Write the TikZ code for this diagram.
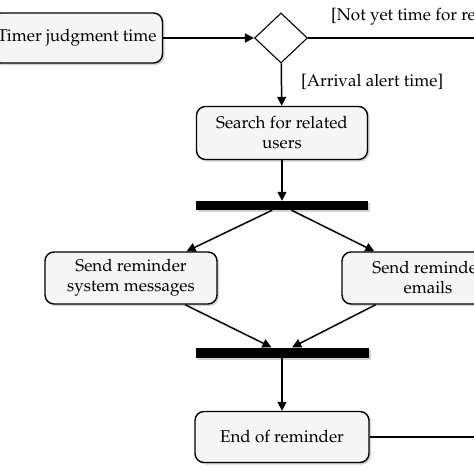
\documentclass[tikz,border=0pt]{standalone}
\usepackage[T1]{fontenc}
\usepackage{mathpazo}
\usetikzlibrary{arrows.meta,shapes.geometric,shadows}

\begin{document}
\begin{tikzpicture}[x=1pt,y=-1pt]
    \path[use as bounding box,clip] (0,0) rectangle (474,474);
    \begin{scope}[every node/.style={rectangle,rounded corners=9pt,draw=black,line width=1.4pt,
            fill=gray!8,align=center,inner sep=2pt,
            font=\fontsize{17}{20}\selectfont,
            drop shadow={opacity=0.35,shadow xshift=2pt,shadow yshift=-2pt}}]
        \node[minimum width=171pt,minimum height=50pt] (timer) at (77,38) {Timer judgment time};
        \node[minimum width=171pt,minimum height=53pt] (search) at (282,133) {Search for related\\users};
        \node[minimum width=172pt,minimum height=52pt] (sendsys) at (131,278) {Send reminder\\system messages};
        \node[minimum width=172pt,minimum height=52pt] (sendmail) at (428,278) {Send reminder\\emails};
        \node[minimum width=174pt,minimum height=51pt] (finish) at (282,437) {End of reminder};
    \end{scope}
    \node[diamond,draw=black,line width=1.1pt,fill=white,inner sep=0pt,
        minimum width=53pt,minimum height=50pt] (dec) at (281,38) {};
    \begin{scope}[every node/.style={rectangle,fill=black,draw=none,inner sep=0pt,
            drop shadow={opacity=0.35,shadow xshift=2pt,shadow yshift=-2pt}}]
        \node[minimum width=172pt,minimum height=9pt] (fork) at (282,205.5) {};
        \node[minimum width=173pt,minimum height=10pt] (join) at (282,352.5) {};
    \end{scope}
    \coordinate (notyet) at (520,38);
    \coordinate (back) at (520,437);

    \begin{scope}[>={Triangle[length=9pt,width=9pt]},
        every edge/.style={draw=black,line width=1.5pt}]
        \path [->] (timer) edge (dec);
        \path [->] (dec) edge (search);
        \path [->] (search) edge (fork);
        \path [->] (fork) edge (sendsys);
        \path [->] (fork) edge (sendmail);
        \path [->] (sendsys) edge (join);
        \path [->] (sendmail) edge (join);
        \path [->] (join) edge (finish);
        \path [-] (dec) edge (notyet);
        \path [-] (finish) edge (back);
    \end{scope}

    \begin{scope}[every node/.style={anchor=west,inner sep=0pt,font=\fontsize{17}{20}\selectfont}]
        \node (guardno) at (331,17) {[Not yet time for reminder]};
        \node (guardyes) at (301,82) {[Arrival alert time]};
    \end{scope}
\end{tikzpicture}
\end{document}
